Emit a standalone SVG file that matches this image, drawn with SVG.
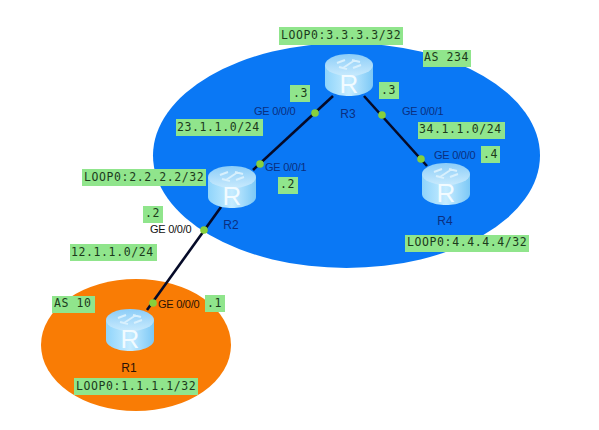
<svg xmlns="http://www.w3.org/2000/svg" width="599" height="430" viewBox="0 0 599 430">
<style>
.lb{fill:#90e58c}
.m{font:11.5px "DejaVu Sans Mono",monospace;letter-spacing:.6px;fill:#1c3a1c}
.t{font:11px "Liberation Sans",Arial,sans-serif;letter-spacing:-.25px}
.d{fill:#0b2f80}.k{fill:#111}.o{fill:#2a1206}
.c{stroke:#050a28;stroke-width:2.6;fill:none}
.p{fill:#86d03c}
.rn{font:12px "Liberation Sans",Arial,sans-serif}
</style>
<defs>
<linearGradient id="body" x1="0" x2="1" y1="0" y2="0"><stop offset="0" stop-color="#8fd4fb"/><stop offset=".5" stop-color="#c6ecff"/><stop offset="1" stop-color="#7cc8f6"/></linearGradient>
<linearGradient id="top" x1="0" x2="0" y1="0" y2="1"><stop offset="0" stop-color="#8ccdf8"/><stop offset="1" stop-color="#c8eafd"/></linearGradient>
<g id="router">
<path d="M0 11V31C0 37 11 42 24 42S48 37 48 31V11Z" fill="url(#body)"/>
<ellipse cx="24" cy="11" rx="24" ry="11" fill="url(#top)"/>
<path d="M12 9L20 6M28 14L36 11M18 14L30 6M14 13L22 15M27 6L35 8" stroke="#d8f0fd" stroke-width="2" fill="none"/>
<text x="24" y="39" text-anchor="middle" font-family="Liberation Sans,Arial,sans-serif" font-size="26" fill="#f2fbff">R</text>
</g>
</defs>
<rect width="599" height="430" fill="#fff"/>
<g id="as-areas">
<ellipse cx="346.500" cy="155.500" rx="193.500" ry="112.500" fill="#0a78f5"/>
<ellipse cx="136" cy="345" rx="95" ry="66" fill="#f97c05"/>
</g>
<g id="connectors">
<path class="c" d="M147 310L221 207"/>
<path class="c" d="M253 170L333 96"/>
<path class="c" d="M364 96L427 166"/>
<circle class="p" cx="204" cy="230" r="3.800"/>
<circle class="p" cx="153" cy="303" r="3.800"/>
<circle class="p" cx="260" cy="164" r="3.800"/>
<circle class="p" cx="315" cy="113" r="3.800"/>
<circle class="p" cx="382" cy="115" r="3.800"/>
<circle class="p" cx="421" cy="159" r="3.800"/>
</g>
<g id="R3"><use href="#router" x="325" y="54"/><text class="rn d" x="348" y="118" text-anchor="middle">R3</text></g>
<g id="R2"><use href="#router" x="208" y="166"/><text class="rn d" x="231" y="229" text-anchor="middle">R2</text></g>
<g id="R1"><use href="#router" x="106" y="309"/><text class="rn o" x="129" y="372" text-anchor="middle">R1</text></g>
<g id="R4"><use href="#router" x="422" y="163"/><text class="rn d" x="445" y="225" text-anchor="middle">R4</text></g>
<g id="labels">
<rect class="lb" x="279" y="27" width="124" height="18"/><text class="m" x="281" y="39">LOOP0:3.3.3.3/32</text>
<rect class="lb" x="423" y="50" width="48" height="17"/><text class="m" x="424" y="61">AS 234</text>
<rect class="lb" x="290" y="85" width="20" height="17"/><text class="m" x="293" y="97">.3</text>
<rect class="lb" x="379" y="82" width="20" height="17"/><text class="m" x="381" y="94">.3</text>
<rect class="lb" x="176" y="119" width="87" height="17"/><text class="m" x="177" y="131">23.1.1.0/24</text>
<rect class="lb" x="418" y="122" width="87" height="17"/><text class="m" x="419" y="133">34.1.1.0/24</text>
<rect class="lb" x="481" y="146" width="19" height="17"/><text class="m" x="483" y="158">.4</text>
<rect class="lb" x="278" y="177" width="20" height="17"/><text class="m" x="280" y="188">.2</text>
<rect class="lb" x="82" y="169" width="124" height="17"/><text class="m" x="84" y="181">LOOP0:2.2.2.2/32</text>
<rect class="lb" x="143" y="206" width="20" height="17"/><text class="m" x="145" y="217">.2</text>
<rect class="lb" x="70" y="244" width="87" height="17"/><text class="m" x="71" y="256">12.1.1.0/24</text>
<rect class="lb" x="52" y="296" width="43" height="17"/><text class="m" x="54" y="307">AS 10</text>
<rect class="lb" x="205" y="295" width="20" height="17"/><text class="m" x="207" y="307">.1</text>
<rect class="lb" x="74" y="378" width="124" height="17"/><text class="m" x="76" y="390">LOOP0:1.1.1.1/32</text>
<rect class="lb" x="405" y="235" width="124" height="17"/><text class="m" x="407" y="246">LOOP0:4.4.4.4/32</text>
<text class="t d" x="254" y="115">GE 0/0/0</text>
<text class="t d" x="402" y="115">GE 0/0/1</text>
<text class="t d" x="265" y="171">GE 0/0/1</text>
<text class="t d" x="434" y="159">GE 0/0/0</text>
<text class="t k" x="150" y="233">GE 0/0/0</text>
<text class="t o" x="158" y="308">GE 0/0/0</text>
</g>
</svg>
